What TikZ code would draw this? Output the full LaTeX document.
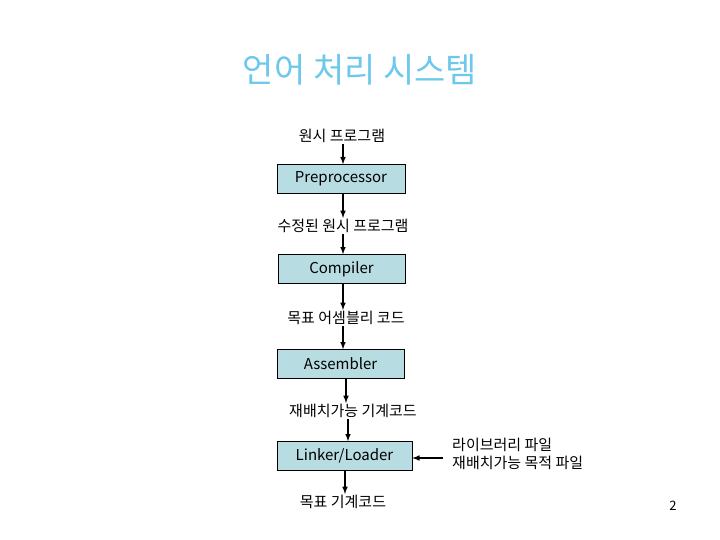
\documentclass[tikz,border=0pt]{standalone}
\usepackage{fontspec}
\setmainfont{Noto Sans CJK KR}
\definecolor{boxfill}{RGB}{183,221,226}
\definecolor{titleblue}{RGB}{110,200,235}
\begin{document}
\begin{tikzpicture}[x=1pt,y=-1pt,
  proc/.style={draw,fill=boxfill,minimum height=29pt,inner sep=0pt,font=\fontsize{15}{18}\selectfont},
  lbl/.style={font=\fontsize{15}{18}\selectfont,inner sep=1pt},
  arr/.style={-latex,line width=1.5pt}]
\useasboundingbox (0,0) rectangle (720,540);
\node[font=\fontsize{34}{40}\selectfont,text=titleblue] (title) at (360,70) {언어 처리 시스템};
\node[lbl] (t1) at (342,136) {원시 프로그램};
\node[proc,minimum width=128pt] (pre) at (341,179) {Preprocessor};
\node[lbl] (t2) at (343,226) {수정된 원시 프로그램};
\node[proc,minimum width=127pt] (comp) at (341.5,269) {Compiler};
\node[lbl] (t3) at (346,318) {목표 어셈블리 코드};
\node[proc,minimum width=127pt] (asm) at (340.5,364) {Assembler};
\node[lbl] (t4) at (353,411) {재배치가능 기계코드};
\node[proc,minimum width=135pt] (link) at (344.5,456) {Linker/Loader};
\node[lbl] (t5) at (343,502) {목표 기계코드};
\node[lbl,align=left,anchor=west] (lib) at (451,454) {라이브러리 파일\\재배치가능 목적 파일};
\node[font=\fontsize{13}{15}\selectfont] (pg) at (673,506) {2};
\coordinate (libend) at (443,458);
\draw[arr] (t1.south -| 343,0) -- (pre.north -| 343,0);
\draw[arr] (pre.south -| 343,0) -- (t2.north -| 343,0);
\draw[arr] (t2.south -| 343,0) -- (comp.north -| 343,0);
\draw[arr] (comp.south -| 343,0) -- (t3.north -| 343,0);
\draw[arr] (t3.south -| 343,0) -- (asm.north -| 343,0);
\draw[arr] (asm.south -| 346,0) -- (t4.north -| 346,0);
\draw[arr] (t4.south -| 348,0) -- (link.north -| 348,0);
\draw[arr] (link.south -| 345,0) -- (t5.north -| 345,0);
\draw[arr] (libend) -- (link.east |- libend);
\end{tikzpicture}
\end{document}
